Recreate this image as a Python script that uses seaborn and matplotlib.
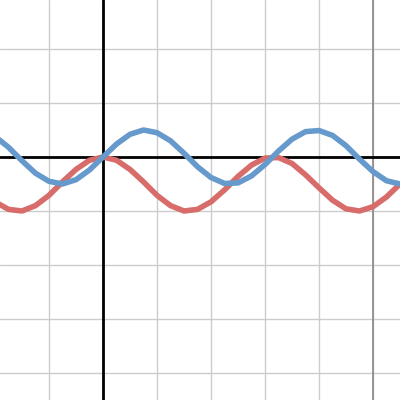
import numpy as np
import matplotlib
matplotlib.use("Agg")
import matplotlib.pyplot as plt
import seaborn as sns

# sample points
x_vals = [-2.0, -1.75, -1.5, -1.25, -1.0, -0.75, -0.5, -0.25, 0.0, 0.25, 0.5, 0.75,
          1.0, 1.25, 1.5, 1.75, 2.0, 2.25, 2.5, 2.75, 3.0, 3.25, 3.5, 3.75,
          4.0, 4.25, 4.5, 4.75, 5.0, 5.25, 5.5]
blue_vals = [0.38, 0.18, -0.07, -0.30, -0.45, -0.50, -0.42, -0.24, 0.0, 0.24, 0.42, 0.50,
             0.45, 0.30, 0.07, -0.18, -0.38, -0.49, -0.48, -0.35, -0.14, 0.11, 0.33, 0.47,
             0.49, 0.40, 0.21, -0.04, -0.27, -0.44, -0.50]
red_vals = [-0.83, -0.97, -1.00, -0.90, -0.71, -0.46, -0.23, -0.06, 0.0, -0.06, -0.23, -0.46,
            -0.71, -0.90, -1.00, -0.97, -0.83, -0.61, -0.36, -0.15, -0.02, -0.01, -0.12, -0.33,
            -0.57, -0.80, -0.96, -1.00, -0.92, -0.74, -0.50]

sns.set_style("white")
fig = plt.figure(figsize=(4, 4), dpi=100)
ax = fig.add_axes([0, 0, 1, 1])

x0 = -103 / 54
x1 = x0 + 400 / 54
y1 = 157 / 54
y0 = y1 - 400 / 54
ax.set_xlim(x0, x1)
ax.set_ylim(y0, y1)

for gx in range(-1, 6):
    ax.axvline(gx, color="#cccccc", lw=1, zorder=0)
for gy in range(-4, 3):
    ax.axhline(gy, color="#cccccc", lw=1, zorder=0)
ax.axvline(5, color="#888888", lw=1.2, zorder=1)
ax.axhline(0, color="black", lw=2, zorder=2)
ax.axvline(0, color="black", lw=2, zorder=2)

sns.lineplot(x=x_vals, y=red_vals, ax=ax, color="#d76c6a", lw=4, zorder=3)
sns.lineplot(x=x_vals, y=blue_vals, ax=ax, color="#6699cc", lw=4, zorder=4)

ax.set_xticks([])
ax.set_yticks([])
for s in ax.spines.values():
    s.set_visible(False)

fig.savefig("out.png", dpi=100)
